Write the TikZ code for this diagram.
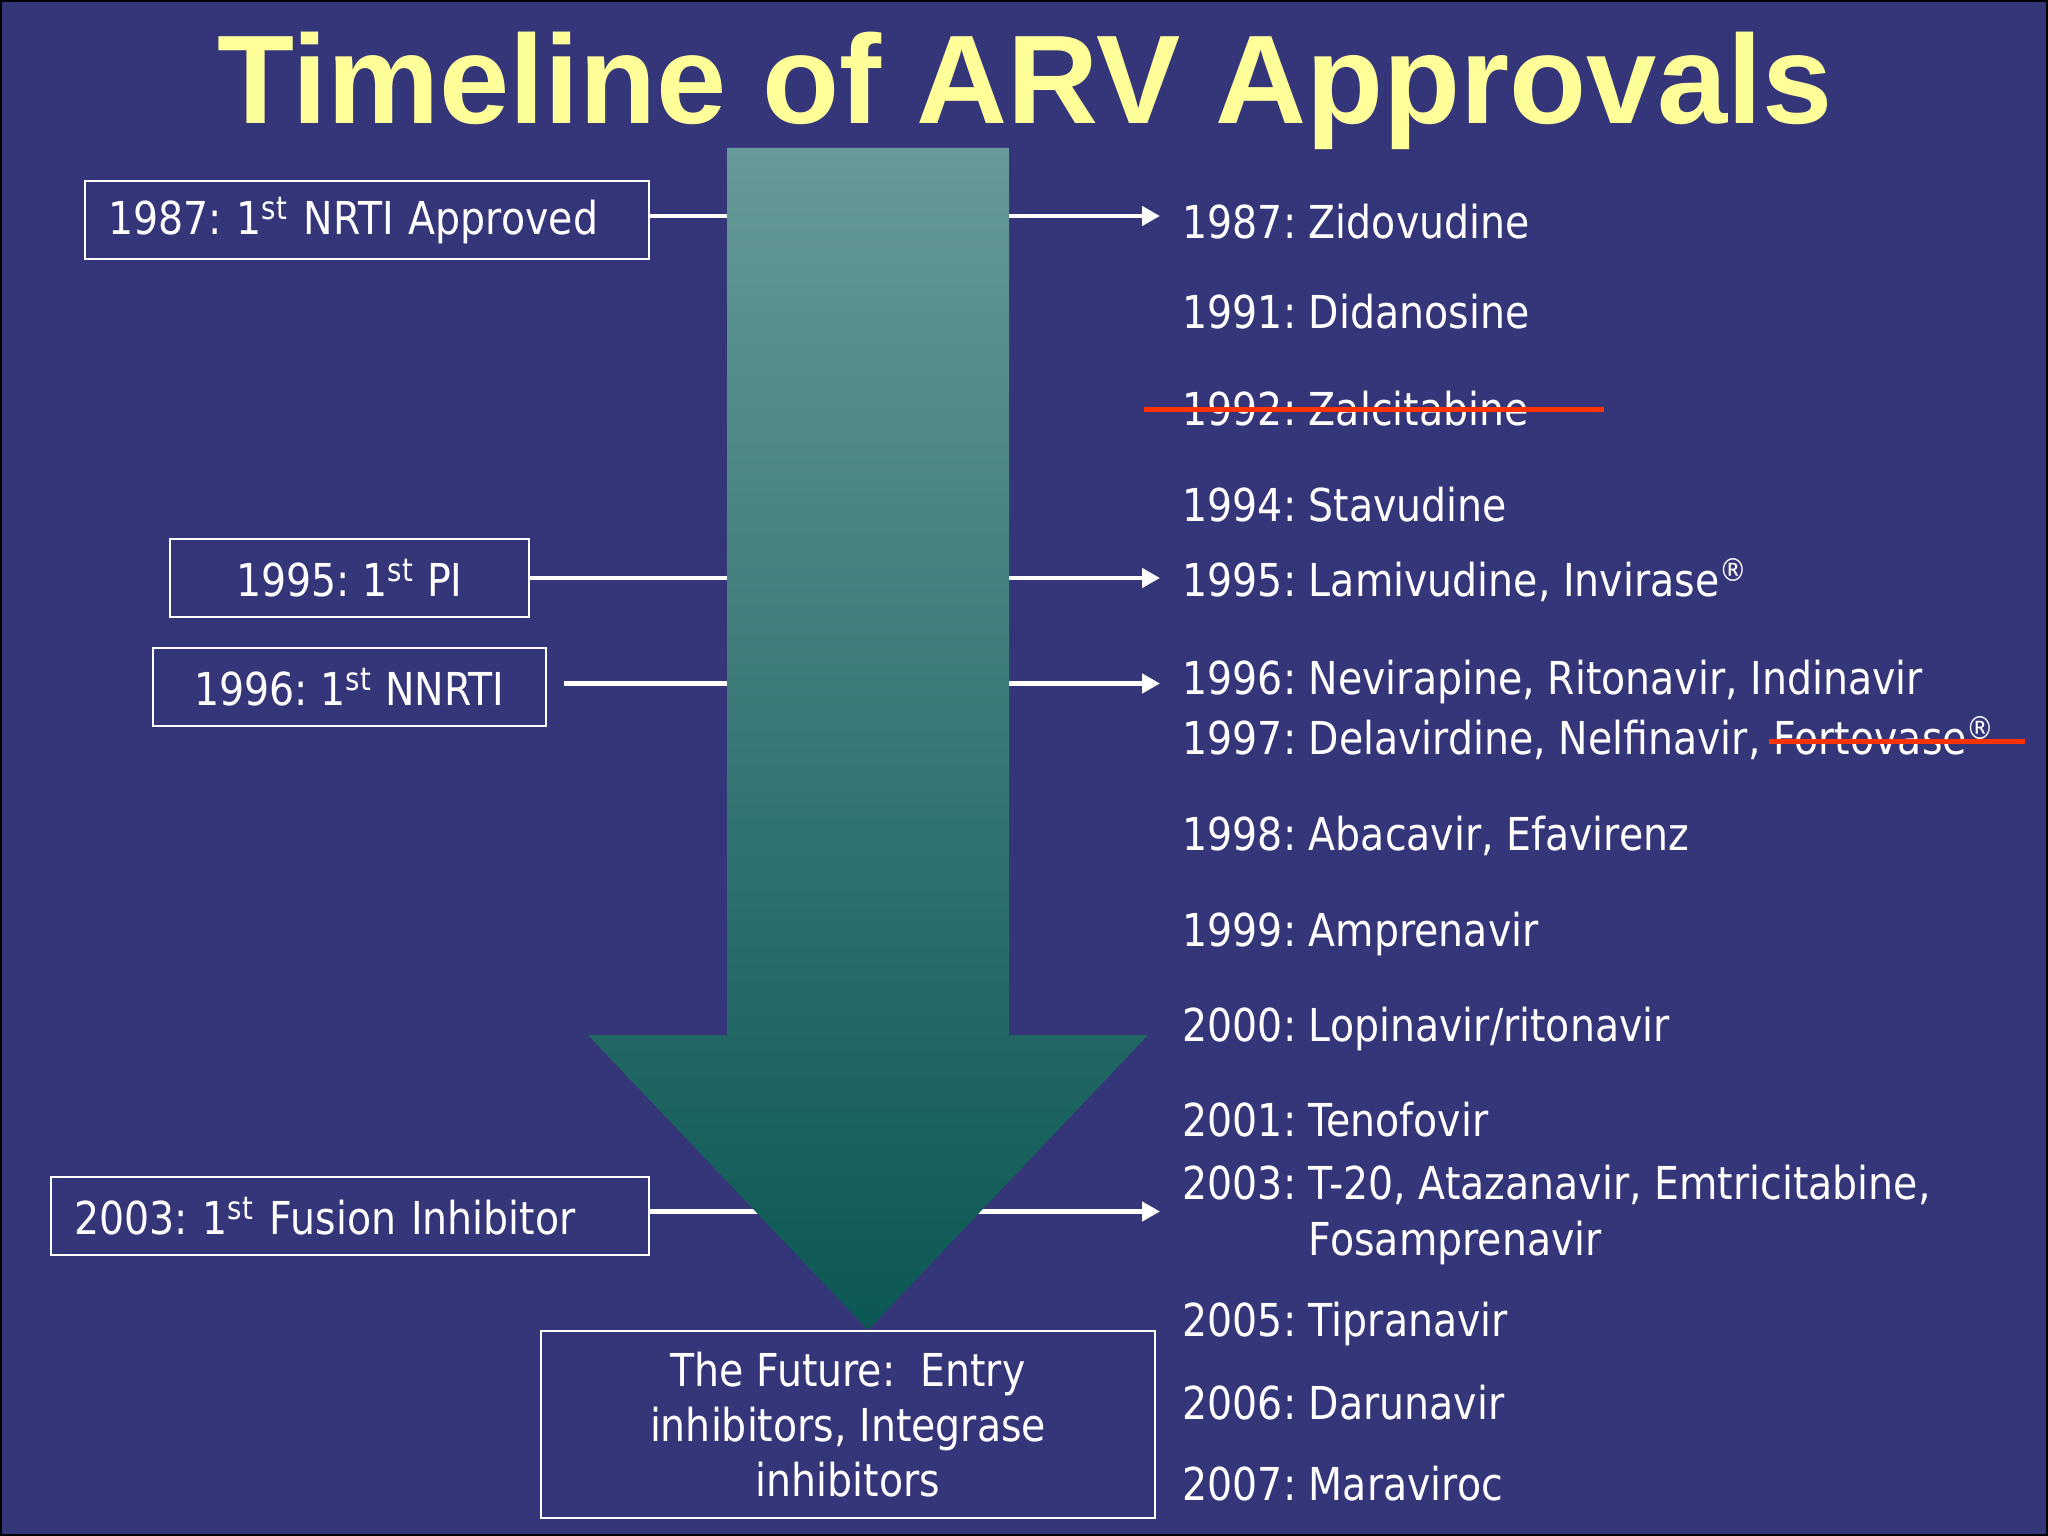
\documentclass[tikz,border=0pt]{standalone}
\usepackage{fontspec}
\setmainfont{DejaVu Sans}[FakeStretch=0.87]
\newfontfamily\titlefont{Liberation Sans}
\usetikzlibrary{arrows.meta}
\frenchspacing
\definecolor{slidebg}{HTML}{353579}
\definecolor{titleyellow}{HTML}{FFFF99}
\definecolor{arrowtop}{HTML}{669999}
\definecolor{arrowbot}{HTML}{0B5753}
\definecolor{strikered}{HTML}{FF3300}
\tikzset{
  yearbox/.style={draw=white, line width=0.02cm, text=white, font=\fontsize{12.9}{15.6}\selectfont, minimum height=0.78cm, inner ysep=0.05cm},
  druglabel/.style={text=white, font=\fontsize{12.9}{15.6}\selectfont, anchor=base west, inner xsep=0.22cm, inner ysep=0pt},
  conn/.style={white, line width=0.045cm, -{Triangle[length=0.18cm,width=0.19cm]}},
  strikeout/.style={strikered, line width=0.05cm}
}

\begin{document}
\begin{tikzpicture}
	\useasboundingbox (0,0) rectangle (20.48,-15.36);
	\draw[black, line width=0.04cm, fill=slidebg] (0,0) rectangle (20.48,-15.36);
	\node[font=\titlefont\bfseries\fontsize{35.9}{40}\selectfont, text=titleyellow, anchor=base] (title) at (10.25,-1.24) {Timeline of ARV Approvals};

	% milestones on the left
	\node[yearbox, text width=5.18cm, inner xsep=0.23cm, align=left] (b87) at (3.67,-2.205) {1987: 1\textsuperscript{st} NRTI Approved};
	\node[yearbox, minimum width=3.59cm] (b95) at (3.495,-5.78) {1995: 1\textsuperscript{st} PI};
	\node[yearbox, minimum width=3.93cm] (b96) at (3.495,-6.875) {1996: 1\textsuperscript{st} NNRTI};
	\node[yearbox, text width=5.52cm, inner xsep=0.23cm, align=left] (b03) at (3.50,-12.16) {2003: 1\textsuperscript{st} Fusion Inhibitor};
	\node[yearbox, minimum width=6.14cm, minimum height=1.87cm, align=center, font=\fontsize{12.9}{15.65}\selectfont] (future) at (8.48,-14.245) {The Future:~ Entry\\inhibitors, Integrase\\inhibitors};

	% approvals on the right
	\node[druglabel] (d87) at (11.60,-2.385) {1987: Zidovudine};
	\node[druglabel] (d91) at (11.60,-3.285) {1991: Didanosine};
	\node[druglabel] (d92) at (11.60,-4.255) {1992: Zalcitabine};
	\node[druglabel] (d94) at (11.60,-5.215) {1994: Stavudine};
	\node[druglabel] (d95) at (11.60,-5.965) {1995: Lamivudine, Invirase\textsuperscript{®}};
	\node[druglabel] (d96) at (11.60,-6.945) {1996: Nevirapine, Ritonavir, Indinavir};
	\node[druglabel] (d97) at (11.60,-7.545) {1997: Delavirdine, Nelfinavir, Fortovase\textsuperscript{®}};
	\node[druglabel] (d98) at (11.60,-8.505) {1998: Abacavir, Efavirenz};
	\node[druglabel] (d99) at (11.60,-9.465) {1999: Amprenavir};
	\node[druglabel] (d00) at (11.60,-10.415) {2000: Lopinavir/ritonavir};
	\node[druglabel] (d01) at (11.60,-11.365) {2001: Tenofovir};
	\node[druglabel] (d03) at (11.60,-11.995) {2003: T-20, Atazanavir, Emtricitabine,};
	\node[druglabel] (d03b) at (11.60,-12.555) {\phantom{2003: }Fosamprenavir};
	\node[druglabel] (d05) at (11.60,-13.365) {2005: Tipranavir};
	\node[druglabel] (d06) at (11.60,-14.195) {2006: Darunavir};
	\node[druglabel] (d07) at (11.60,-15.005) {2007: Maraviroc};

	\draw[conn] ([yshift=0.045cm]b87.east) -- ([yshift=0.045cm]b87.east -| d87.west);
	\draw[conn] (b95) -- (b95 -| d95.west);
	\draw[conn, shorten <=0.17cm] ([yshift=0.04cm]b96.east) -- ([yshift=0.04cm]b96.east -| d96.west);
	\draw[conn] ([yshift=0.045cm]b03.east) -- ([yshift=0.045cm]b03.east -| d03.west);

	% the big arrow goes over the lines
	\shade[top color=arrowtop, bottom color=arrowbot] (7.27,-1.48) -- (10.09,-1.48) -- (10.09,-10.35) -- (11.48,-10.35) -- (8.68,-13.30) -- (5.88,-10.35) -- (7.27,-10.35) -- cycle;

	\draw[strikeout] (11.44,-4.10) -- (16.04,-4.10);
	\draw[strikeout] (17.69,-7.42) -- (20.25,-7.42);
\end{tikzpicture}
\end{document}
